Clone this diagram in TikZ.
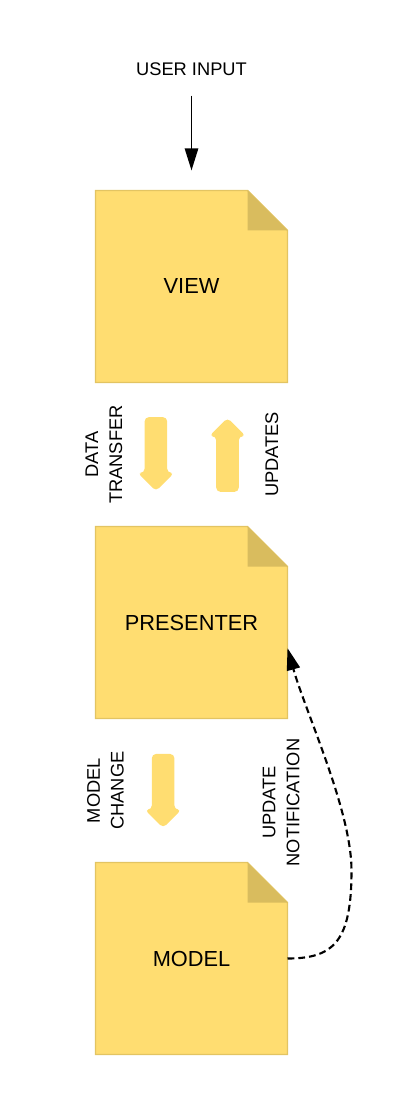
\documentclass[tikz,border=0pt]{standalone}
\usepackage{fontspec}
\setmainfont{Liberation Sans}
\usetikzlibrary{shapes, arrows.meta, calc, positioning, backgrounds}

\definecolor{notefill}{HTML}{FFDD71}
\definecolor{noteline}{HTML}{E3C462}
\definecolor{foldfill}{HTML}{D9BC5E}
\definecolor{pushfill}{HTML}{FFDD71}

\begin{document}
\begin{tikzpicture}[node distance=3.6cm, font=\fontsize{13}{17}\selectfont]
    % Styles
    \tikzstyle{note} = [rectangle, minimum width=4.8cm, minimum height=4.8cm, inner sep=0pt, outer sep=0pt, font=\fontsize{15.5}{19}\selectfont]
    \tikzstyle{sheet} = [draw=noteline, fill=notefill, line width=1pt, line join=miter]
    \tikzstyle{push} = [single arrow, fill=pushfill, draw=none, minimum height=1.85cm, single arrow head extend=0.175cm, single arrow head indent=0pt, rounded corners=3pt, inner xsep=0pt, inner ysep=0.275cm]
    \tikzstyle{flow} = [draw, -{Triangle[length=0.55cm, width=0.33cm]}, line width=1.4pt]
    \tikzstyle{notice} = [flow, dash pattern=on 0.17cm off 0.1cm, line width=1.5pt]
    \tikzstyle{tag} = [align=center, rotate=90]

    % Frame
    \useasboundingbox (0,0) rectangle (10,-27.55);

    % Nodes
    \node [note] (view) at (4.7875,-7.1625) {VIEW};
    \node [note, below=of view] (pres) {PRESENTER};
    \node [note, below=of pres] (model) {MODEL};
    \node [inner sep=0pt, above=2.86cm of view] (input) {USER INPUT};

    % Sheets with folded corner
    \begin{scope}[on background layer]
        \foreach \n in {view, pres, model} {
            \draw [sheet] (\n.south west) -- (\n.north west) -- ([xshift=-1cm]\n.north east) -- ([yshift=-1cm]\n.north east) -- (\n.south east) -- cycle;
            \fill [foldfill] ([xshift=-1cm]\n.north east) |- ([yshift=-1cm]\n.north east) -- cycle;
        }
    \end{scope}

    % Block arrows
    \coordinate (gap1) at ($(view.south)!0.5!(pres.north)$);
    \coordinate (gap2) at ($(pres.south)!0.5!(model.north)$);
    \node [push, rotate=-90] (transfer) at ([xshift=-0.89cm, yshift=0.15cm]gap1) {};
    \node [push, rotate=90] (updates) at ([xshift=0.9cm, yshift=-0.15cm]gap1) {};
    \node [push, rotate=-90] (change) at ([xshift=-0.71cm, yshift=0.13cm]gap2) {};

    % Labels
    \node [tag] (transferlabel) at ([xshift=-2.19cm]gap1) {DATA\\TRANSFER};
    \node [tag] (updateslabel) at ([xshift=2.01cm]gap1) {UPDATES};
    \node [tag] (changelabel) at ([xshift=-2.15cm]gap2) {MODEL\\CHANGE};
    \node [tag] (noticelabel) at ([xshift=2.24cm, yshift=-0.3cm]gap2) {UPDATE\\NOTIFICATION};

    % Paths
    \draw [flow, shorten <=0.49cm, shorten >=0.5cm] (input) -- (view);
    \coordinate (swing) at ([shift={(1.6,2.2)}]model.east);
    \draw [notice] (model.east) .. controls +(1.175,0) and +(0,-1.75) .. (swing) .. controls +(0,1.5) and +(0.45,-1.6) .. ([yshift=-0.64cm]pres.east);

\end{tikzpicture}
\end{document}
